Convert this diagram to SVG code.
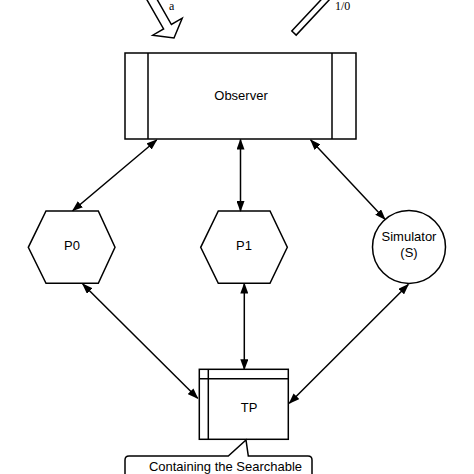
<svg xmlns="http://www.w3.org/2000/svg" width="474" height="474" viewBox="0 0 474 474">
<defs>
<style>
.shape{fill:#fff;stroke:#000;stroke-width:1.5}
.line{fill:none;stroke:#000;stroke-width:1.5}
.lbl{font-family:"Liberation Sans",Arial,sans-serif;font-size:13px;fill:#000;text-anchor:middle}
.serif{font-family:"Liberation Serif","Times New Roman",serif;font-size:12px;fill:#000}
.conn{fill:none;stroke:#000;stroke-width:1.5;marker-start:url(#ah);marker-end:url(#ah)}
</style>
<marker id="ah" viewBox="0 0 11 8" refX="10" refY="4" markerWidth="11" markerHeight="8" markerUnits="userSpaceOnUse" orient="auto-start-reverse">
<path d="M0,0 L11,4 L0,8 z" fill="#000"/>
</marker>
</defs>
<rect width="474" height="474" fill="#fff"/>

<g id="input-a">
<polygon class="shape" points="142.6,-7.75 163.6,28.9 152.8,35.2 174,38 182.2,18.2 171.4,24.5 150.4,-12.25"/>
<text class="serif" x="169" y="10">a</text>
</g>
<g id="output-10">
<polygon class="shape" points="291.8,31 296.2,35.1 330,-1 325.6,-5.1"/>
<text class="serif" x="335" y="10">1/0</text>
</g>

<g id="observer">
<rect class="shape" x="125" y="53" width="231" height="86"/>
<line class="line" x1="148" y1="53" x2="148" y2="139"/>
<line class="line" x1="332" y1="53" x2="332" y2="139"/>
<text class="lbl" x="241" y="100">Observer</text>
</g>

<g id="p0">
<polygon class="shape" points="46,211 98.3,211 115,247.3 98.3,283.3 46,283.3 28.3,247.3"/>
<text class="lbl" x="72" y="250">P0</text>
</g>

<g id="p1">
<polygon class="shape" points="218.3,211 270,211 287.3,247.3 270,283.3 218.3,283.3 200.7,247.3"/>
<text class="lbl" x="244" y="250">P1</text>
</g>

<g id="simulator">
<circle class="shape" cx="409" cy="247" r="36.5"/>
<text class="lbl" x="409" y="241">Simulator</text>
<text class="lbl" x="409" y="257">(S)</text>
</g>

<g id="tp">
<rect class="shape" x="199.3" y="369.3" width="89" height="70"/>
<line class="line" x1="199.3" y1="378.7" x2="288.3" y2="378.7"/>
<line class="line" x1="208.3" y1="369.3" x2="208.3" y2="439.3"/>
<text class="lbl" x="249" y="412">TP</text>
</g>

<g id="note">
<path class="shape" d="M125,480 V460 Q125,456 129,456 H228.3 L246,440 L248.3,456 H308 Q312,456 312,460 V480"/>
<text class="lbl" x="225.5" y="470.5">Containing the Searchable</text>
</g>

<g id="connectors">
<line class="conn" x1="156.7" y1="140" x2="72.7" y2="210.7"/>
<line class="conn" x1="240.5" y1="139.5" x2="240.5" y2="211"/>
<line class="conn" x1="310.7" y1="140" x2="385" y2="219.3"/>
<line class="conn" x1="82.7" y1="284" x2="197.7" y2="398.3"/>
<line class="conn" x1="244.3" y1="283.5" x2="244.3" y2="369.3"/>
<line class="conn" x1="408.3" y1="284.5" x2="289.3" y2="403.3"/>
</g>
</svg>
